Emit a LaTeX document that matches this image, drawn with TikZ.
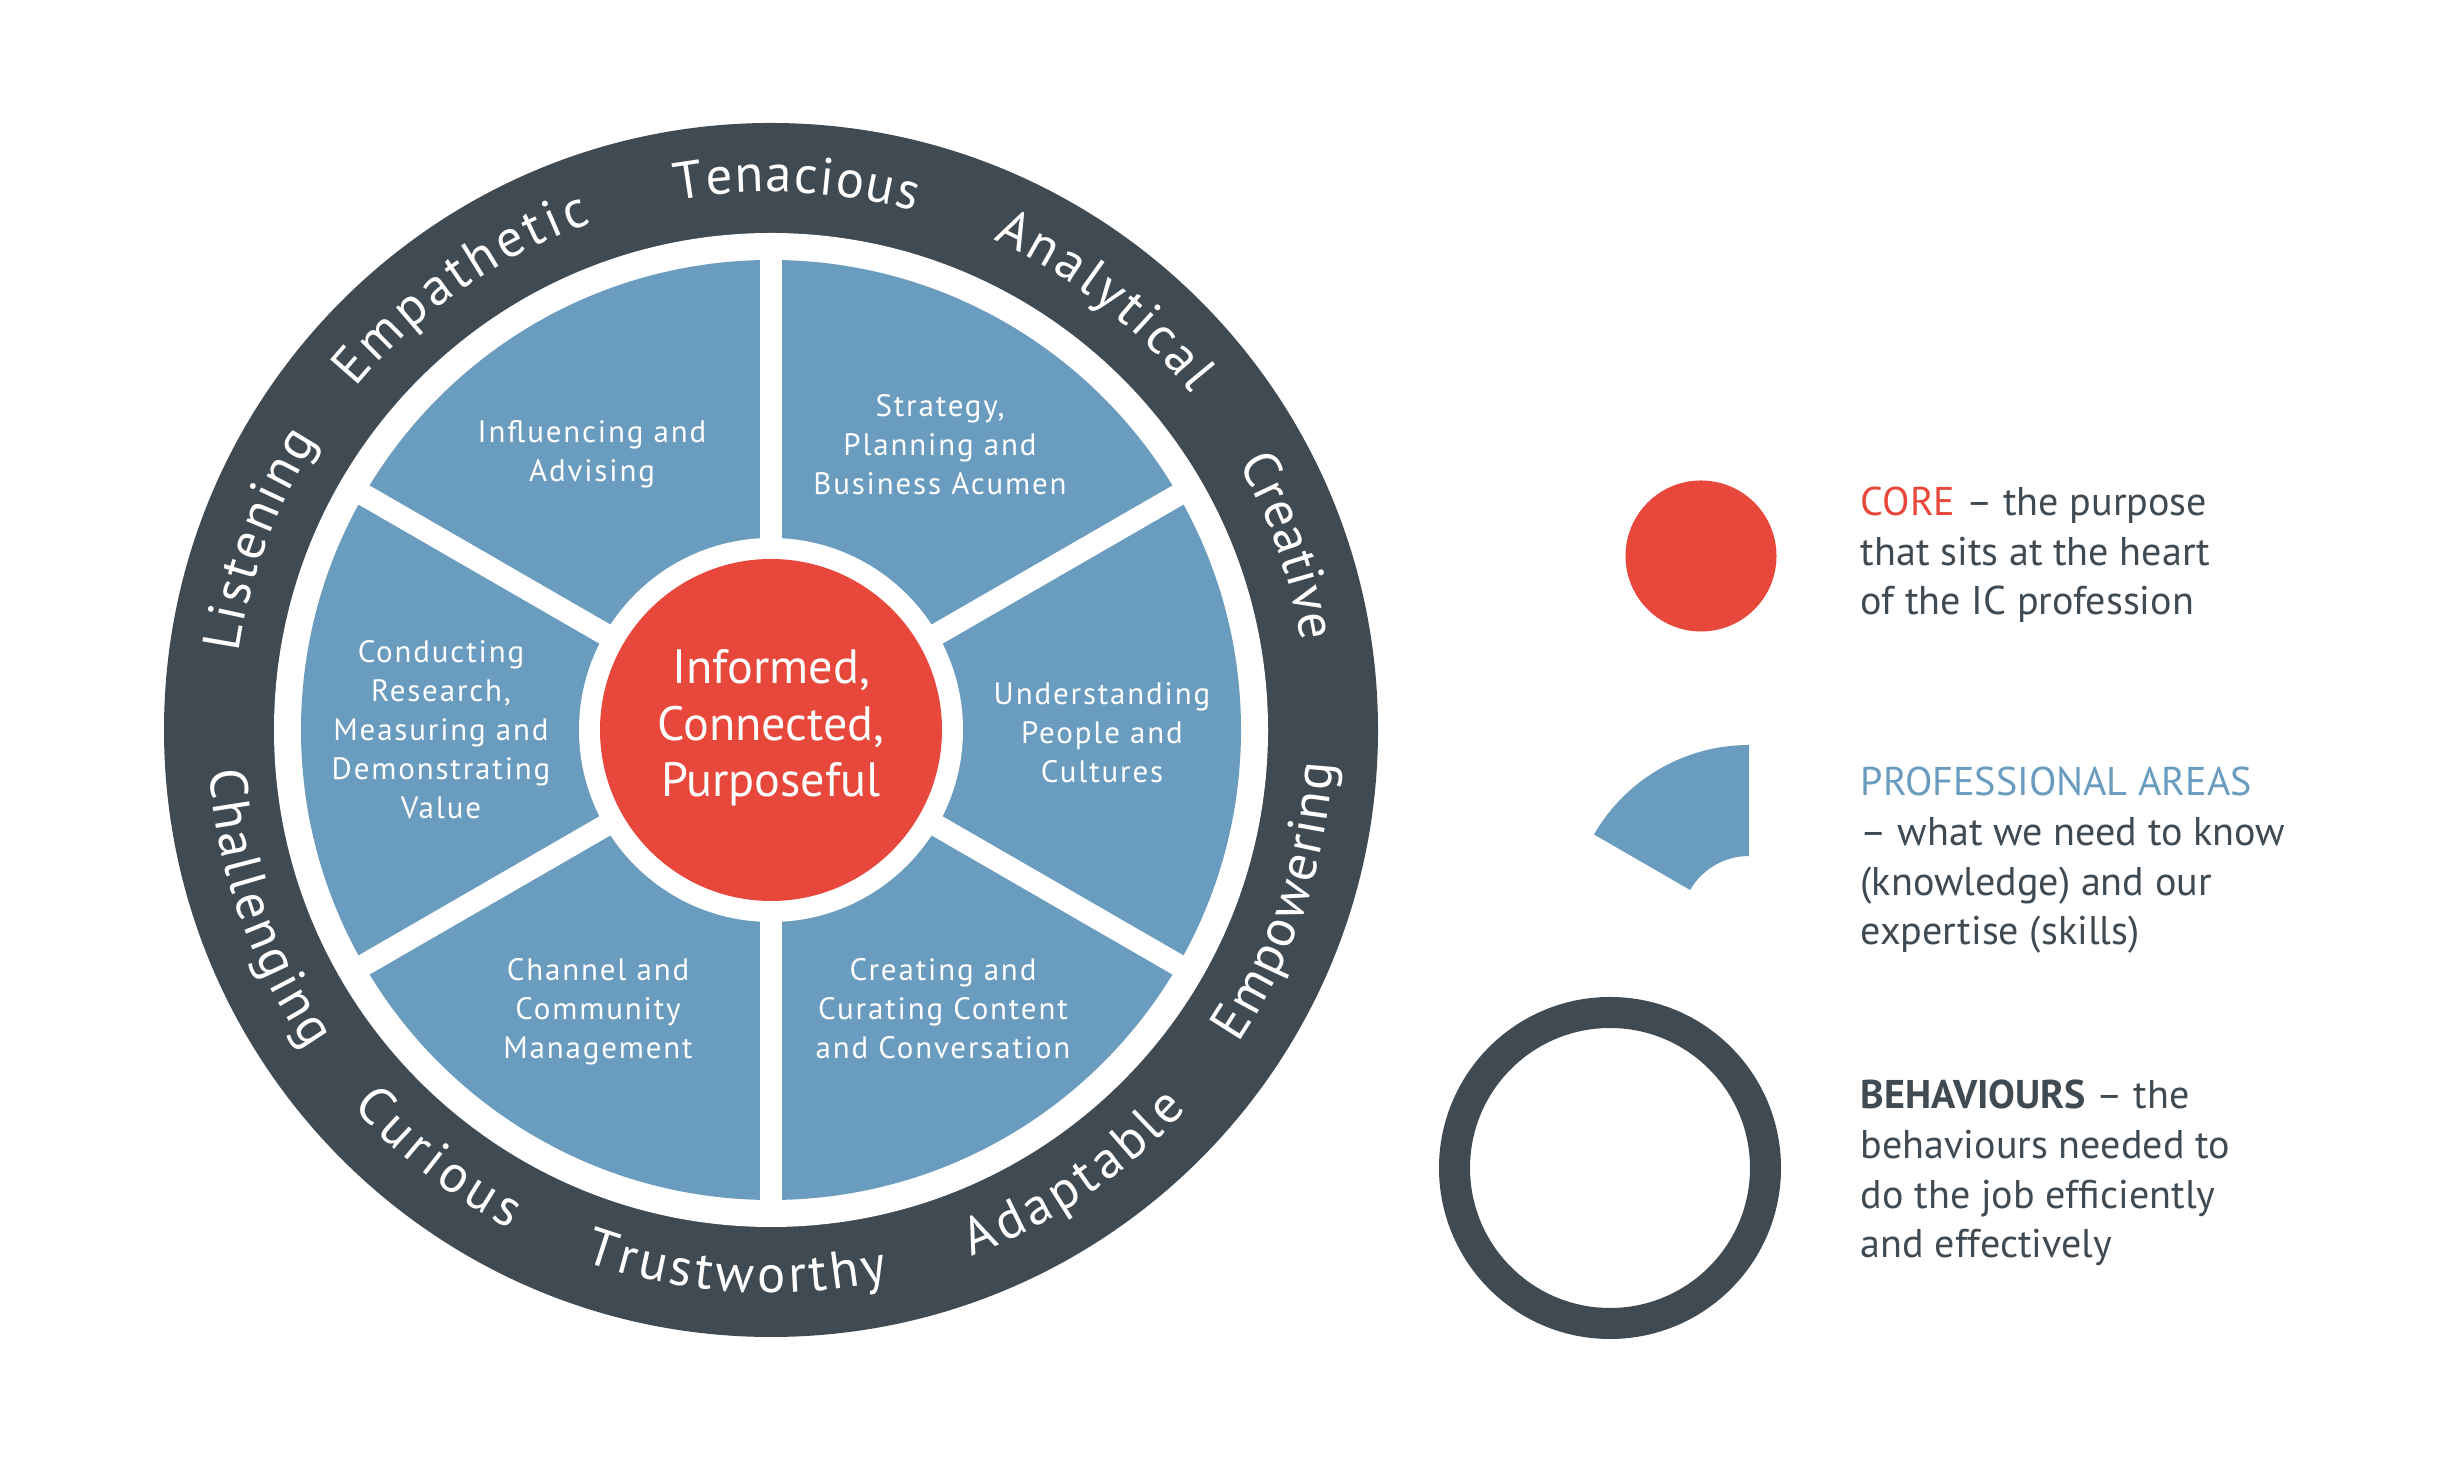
\documentclass[tikz,border=0pt]{standalone}
\usepackage{fontspec}
\setmainfont{PT Sans}
\newfontfamily\areafont[LetterSpace=6]{PT Sans}
\usetikzlibrary{decorations.text}
\definecolor{ringgrey}{HTML}{3F4A52}
\definecolor{areablue}{HTML}{6A9CBF}
\definecolor{corered}{HTML}{E8483B}
\newcommand{\ringfont}{\fontsize{15}{17}\selectfont\color{white}}
\tikzstyle{areatext} = [text=white, align=center, anchor=base, inner sep=0pt, font=\areafont\fontsize{8.8}{11.1}\selectfont]
\tikzstyle{coretext} = [text=white, align=center, anchor=base, inner sep=0pt, font=\fontsize{13.7}{16.1}\selectfont]
\tikzstyle{keytext} = [text=ringgrey, align=left, anchor=base west, inner sep=0pt, font=\fontsize{11.4}{14.2}\selectfont]
\tikzstyle{divider} = [white, line width=0.22cm]
\tikzset{ringword/.style={decorate, decoration={text along path, text align={fit to path}, text={|\ringfont|#1}}}}

\begin{document}
\begin{tikzpicture}[x=0.01cm, y=0.01cm]
	\useasboundingbox (0,0) rectangle (2454,1458);
	%wheel: ring, areas, core
	\begin{scope}[shift={(771,728)}]
		\fill[ringgrey] (0,0) circle (607);
		\fill[white] (0,0) circle (497);
		\fill[areablue] (0,0) circle (470);
		\fill[white] (0,0) circle (192);
		\foreach \a in {30,90,...,330}
			\draw[divider] (0,0) -- (\a:480);
		\fill[corered] (0,0) circle (171);
		
		%behaviours, top half clockwise
		\path[ringword=Tenacious] (100.1:538) arc[start angle=100.1, end angle=74.5, radius=538];
		\path[ringword=Analytical] (65.6:538) arc[start angle=65.6, end angle=38.7, radius=538];
		\path[ringword=Creative] (29.7:538) arc[start angle=29.7, end angle=9.4, radius=538];
		\path[ringword=Listening] (171.7:538) arc[start angle=171.7, end angle=147.4, radius=538];
		\path[ringword=Empathetic] (140.5:538) arc[start angle=140.5, end angle=109.5, radius=538];
		%behaviours, bottom half anticlockwise
		\path[ringword=Empowering] (-33.8:563) arc[start angle=-33.8, end angle=-3.4, radius=563];
		\path[ringword=Adaptable] (-69.1:563) arc[start angle=-69.1, end angle=-42.3, radius=563];
		\path[ringword=Trustworthy] (-109.4:563) arc[start angle=-109.4, end angle=-77.9, radius=563];
		\path[ringword=Curious] (-138:563) arc[start angle=-138, end angle=-117.6, radius=563];
		\path[ringword=Challenging] (-175.9:563) arc[start angle=-175.9, end angle=-145.3, radius=563];
	\end{scope}
	
	%anchor = baseline of last line
	\node[coretext] (core) at (771,661) {Informed,\\Connected,\\Purposeful};
	\node[areatext] (strategy) at (940,963) {Strategy,\\Planning and\\Business Acumen};
	\node[areatext] (influencing) at (592,976) {Influencing and\\Advising};
	\node[areatext] (research) at (441,639) {Conducting\\Research,\\Measuring and\\Demonstrating\\Value};
	\node[areatext] (people) at (1102,675) {Understanding\\People and\\Cultures};
	\node[areatext] (channel) at (598,399) {Channel and\\Community\\Management};
	\node[areatext] (content) at (943,399) {Creating and\\Curating Content\\and Conversation};
	
	%key
	\fill[corered] (1701,902) circle (75.5);
	\begin{scope}[shift={(1749,534)}]
		\fill[areablue] (90:179) arc[start angle=90, end angle=150, radius=179] -- (150:68) arc[start angle=150, end angle=90, radius=68] -- cycle;
	\end{scope}
	\draw[ringgrey, line width=0.31cm] (1610,290) circle (155.5);
	
	\node[keytext] (corekey) at (1860,843) {{\color{corered}CORE} – the purpose\\that sits at the heart\\of the IC profession};
	\node[keytext] (areakey) at (1860,513) {{\color{areablue}PROFESSIONAL AREAS}\\– what we need to know\\(knowledge) and our\\expertise (skills)};
	\node[keytext] (behaviourkey) at (1860,200) {\textbf{BEHAVIOURS} – the\\behaviours needed to\\do the job efficiently\\and effectively};
	
\end{tikzpicture}
\end{document}
